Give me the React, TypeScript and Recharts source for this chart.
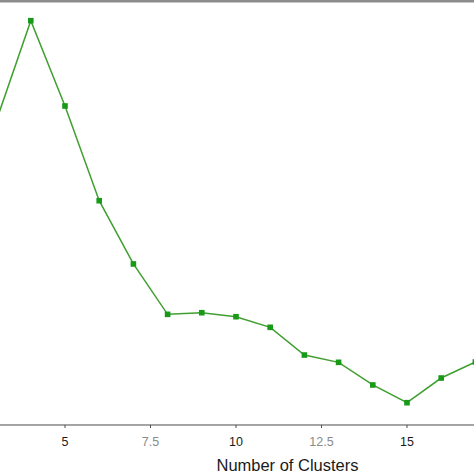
import React from 'react';
import { LineChart, Line, XAxis, YAxis, ReferenceLine } from 'recharts';

const clusters = [3, 4, 5, 6, 7, 8, 9, 10, 11, 12, 13, 14, 15, 16, 17];
const scores = [0.3597, 0.4768, 0.3762, 0.2645, 0.1899, 0.1305, 0.1324, 0.1277, 0.1152, 0.0825, 0.0739, 0.0472, 0.0263, 0.0554, 0.0743];
const xTicks = [5, 7.5, 10, 12.5, 15];
const darkTicks = [5, 10, 15];
const xLabel = 'Number of Clusters';

const data = clusters.map((k, i) => ({ k, score: scores[i] }));

const FONT = '"Liberation Sans", Arial, sans-serif';

const Tick = (props: any) => {
  const { x, y, payload } = props;
  const dark = darkTicks.includes(payload.value);
  return (
    <text x={x} y={y} dy={8.8} textAnchor="middle" fontFamily={FONT} fontSize={12.5} fill={dark ? '#1a1a1a' : '#8a8a8a'}>
      {payload.value}
    </text>
  );
};

const SquareDot = (props: any) => {
  const { cx, cy, index } = props;
  if (cx == null || cy == null) return null;
  return <rect key={index} x={cx - 2.8} y={cy - 2.8} width={5.6} height={5.6} fill="#189a18" />;
};

const XLabel = (props: any) => {
  const vb = props.viewBox || {};
  return (
    <text x={vb.x + vb.width / 2 + 51.5} y={vb.y + 46.5} textAnchor="middle" fontFamily={FONT} fontSize={16.5} fill="#1a1a1a">
      {xLabel}
    </text>
  );
};

export default function App() {
  return (
    <div style={{ position: 'absolute', left: 0, top: 0, width: 474, height: 474, overflow: 'hidden', background: '#fff' }}>
      <div style={{ position: 'absolute', left: -40, top: -20 }}>
        <LineChart width={535.4} height={505} data={data} margin={{ top: 21, right: 20, bottom: 0, left: 36.6 }}>
          <XAxis
            dataKey="k"
            type="number"
            domain={[3, 17]}
            ticks={xTicks}
            allowDecimals
            height={60}
            stroke="#4a4a4a"
            tickSize={3}
            tickMargin={9.5}
            tick={<Tick />}
            label={<XLabel />}
          />
          <YAxis hide domain={[0, 0.5]} />
          <ReferenceLine y={0.5} stroke="#8c8c8c" strokeWidth={3} ifOverflow="visible" />
          <Line
            dataKey="score"
            stroke="#3f9f2f"
            strokeWidth={1.5}
            dot={<SquareDot />}
            activeDot={false}
            isAnimationActive={false}
          />
        </LineChart>
      </div>
    </div>
  );
}
